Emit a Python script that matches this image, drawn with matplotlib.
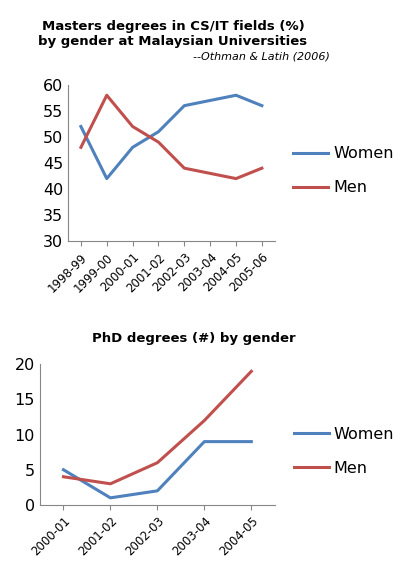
import matplotlib.pyplot as plt

years_ms = ["1998-99", "1999-00", "2000-01", "2001-02", "2002-03", "2003-04", "2004-05", "2005-06"]
women_ms = [52, 42, 48, 51, 56, 57, 58, 56]
men_ms = [48, 58, 52, 49, 44, 43, 42, 44]

years_phd = ["2000-01", "2001-02", "2002-03", "2003-04", "2004-05"]
women_phd = [5, 1, 2, 9, 9]
men_phd = [4, 3, 6, 12, 19]

BLUE = "#4F81BD"
RED = "#C0504D"

fig = plt.figure(figsize=(4.12, 5.81), dpi=100)


def style(ax):
    for s in ["top", "right"]:
        ax.spines[s].set_visible(False)
    for s in ["left", "bottom"]:
        ax.spines[s].set_color("#868686")
    ax.tick_params(axis="y", length=0, labelsize=11.5)
    ax.tick_params(axis="x", labelsize=8.5, color="#868686", rotation=45)
    for lab in ax.get_xticklabels():
        lab.set_ha("right")
        lab.set_rotation_mode("anchor")


ax1 = fig.add_axes([0.165, 0.585, 0.502, 0.269])
x = range(len(years_ms))
ax1.plot(x, women_ms, color=BLUE, lw=2.2, label="Women")
ax1.plot(x, men_ms, color=RED, lw=2.2, label="Men")
ax1.set_ylim(30, 60)
ax1.set_yticks(range(30, 61, 5))
ax1.set_xlim(-0.5, len(years_ms) - 0.5)
ax1.set_xticks(list(x))
ax1.set_xticklabels(years_ms)
style(ax1)
ax1.legend(loc="center left", bbox_to_anchor=(1.02, 0.45), frameon=False,
           fontsize=11.5, handlelength=2.2, handletextpad=0.3, labelspacing=1.2)
fig.text(0.42, 0.965, "Masters degrees in CS/IT fields (%)\nby gender at Malaysian Universities",
         ha="center", va="top", fontsize=9.5, fontweight="bold", linespacing=1.2)
fig.text(0.80, 0.902, "--Othman & Latih (2006)", ha="right", va="center",
         fontsize=8, style="italic")

ax2 = fig.add_axes([0.097, 0.131, 0.57, 0.242])
x2 = range(len(years_phd))
ax2.plot(x2, women_phd, color=BLUE, lw=2.2, label="Women")
ax2.plot(x2, men_phd, color=RED, lw=2.2, label="Men")
ax2.set_ylim(0, 20)
ax2.set_yticks(range(0, 21, 5))
ax2.set_xlim(-0.5, len(years_phd) - 0.5)
ax2.set_xticks(list(x2))
ax2.set_xticklabels(years_phd)
style(ax2)
ax2.legend(loc="center left", bbox_to_anchor=(1.02, 0.38), frameon=False,
           fontsize=11.5, handlelength=2.2, handletextpad=0.3, labelspacing=1.2)
fig.text(0.47, 0.418, "PhD degrees (#) by gender", ha="center", va="center",
         fontsize=9.5, fontweight="bold")

fig.savefig("out.png", dpi=100)
